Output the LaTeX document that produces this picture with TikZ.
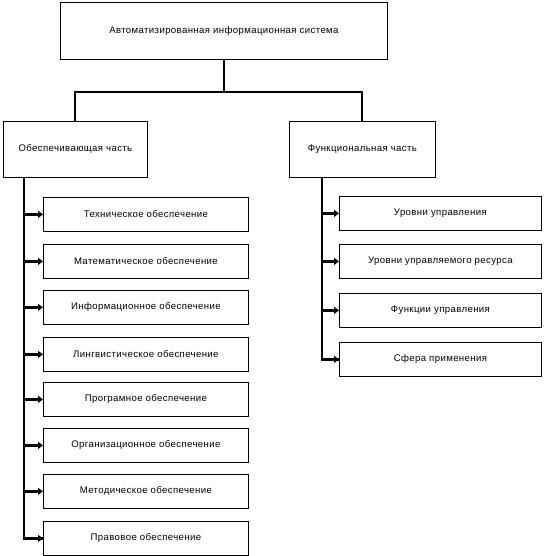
\documentclass[tikz,border=0pt]{standalone}
\usepackage{fontspec}
\setmainfont{Liberation Sans}[LetterSpace=4]
\usetikzlibrary{arrows.meta}
\begin{document}
\begin{tikzpicture}[x=1pt,y=-1pt,
  box/.style={draw,line width=0.8pt,minimum width=#1,minimum height=34pt,inner sep=0pt,font=\fontsize{9.6}{11}\selectfont,anchor=north west},
  conn/.style={line width=2.6pt},
  arr/.style={line width=2.6pt,-{Triangle[length=5pt,width=7pt]}}]
\useasboundingbox (0,0) rectangle (544,556);
\node[box=327pt,minimum height=57pt] (top) at (60,2) {Автоматизированная информационная система};
\node[box=144pt,minimum height=56pt] (left) at (3,121) {Обеспечивающая часть};
\node[box=146pt,minimum height=56pt] (right) at (289,121) {Функциональная часть};
\coordinate (hl) at (75,92);
\coordinate (hr) at (362,92);
\draw[conn] (top.south) -- (top.south |- hl);
\draw[conn,line cap=rect] (hl) -- (hr);
\draw[conn] (hl) -- (hl |- left.north);
\draw[conn] (hr) -- (hr |- right.north);
% left column
\foreach \i/\y/\t in {1/197/Техническое обеспечение,2/244/Математическое обеспечение,3/290/Информационное обеспечение,4/337/Лингвистическое обеспечение,5/382/Програмное обеспечение,6/428/Организационное обеспечение,7/474/Методическое обеспечение,8/521/Правовое обеспечение}{
  \node[box=205pt] (l\i) at (43,\y) {\t};
}
\coordinate (lv) at (24,177);
\draw[conn] (lv) -- (lv |- l8.west) -- (l8.west);
\foreach \i in {1,...,7}{
  \draw[arr] (lv |- l\i.west) -- (l\i.west);
}
\draw[arr] ([xshift=-6pt]l8.west) -- (l8.west);
% right column
\foreach \i/\y/\t in {1/196/Уровни управления,2/244/Уровни управляемого ресурса,3/293/Функции управления,4/342/Сфера применения}{
  \node[box=202pt] (r\i) at (339,\y) {\t};
}
\coordinate (rv) at (322,177);
\draw[conn] (rv) -- (rv |- r4.west) -- (r4.west);
\foreach \i in {1,...,3}{
  \draw[arr] (rv |- r\i.west) -- (r\i.west);
}
\draw[arr] ([xshift=-6pt]r4.west) -- (r4.west);
\end{tikzpicture}
\end{document}
